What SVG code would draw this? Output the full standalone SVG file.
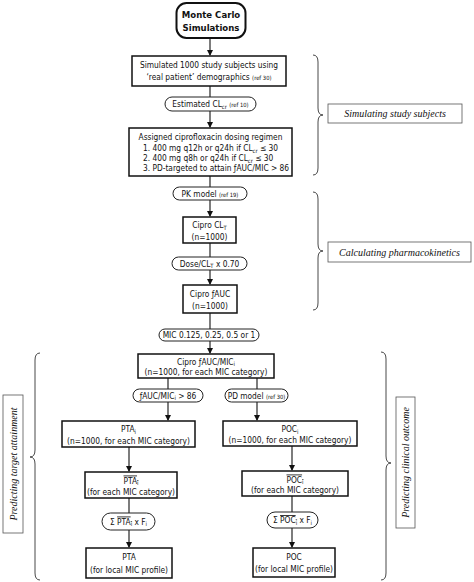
<svg xmlns="http://www.w3.org/2000/svg" width="474" height="582" viewBox="0 0 474 582">
<style>
.bg{fill:#ffffff}
.box{fill:#ffffff;stroke:#111;stroke-width:1.5}
.pill{fill:#ffffff;stroke:#222;stroke-width:1}
.lbl{fill:#ffffff;stroke:#555;stroke-width:0.8}
.ln{fill:none;stroke:#111;stroke-width:1.1}
.br{fill:none;stroke:#333;stroke-width:0.9}
text{font-family:"DejaVu Sans Condensed","DejaVu Sans","Liberation Sans",sans-serif;font-size:8.3px;fill:#111;text-anchor:middle}
.b{font-weight:bold;font-size:9.5px}
.ref{font-size:5.8px}
.it{font-family:"Liberation Serif","Times New Roman",serif;font-style:italic;font-size:10px}
.l{text-anchor:start}
.ov{text-decoration:overline}
</style>
<defs>
<marker id="ah" markerWidth="6" markerHeight="6" refX="5" refY="3" orient="auto" markerUnits="userSpaceOnUse">
<path d="M0,0 L6,3 L0,6 z" fill="#111"/>
</marker>
</defs>
<rect class="bg" x="0" y="0" width="474" height="582"/>

<g id="connectors">
<line class="ln" x1="210" y1="38" x2="210" y2="55" marker-end="url(#ah)"/>
<line class="ln" x1="210" y1="86" x2="210" y2="97"/>
<line class="ln" x1="210" y1="111" x2="210" y2="127" marker-end="url(#ah)"/>
<line class="ln" x1="210" y1="176" x2="210" y2="187"/>
<line class="ln" x1="210" y1="200" x2="210" y2="216" marker-end="url(#ah)"/>
<line class="ln" x1="210" y1="243" x2="210" y2="257"/>
<line class="ln" x1="210" y1="270" x2="210" y2="284" marker-end="url(#ah)"/>
<line class="ln" x1="210" y1="313" x2="210" y2="329"/>
<line class="ln" x1="210" y1="341" x2="210" y2="353" marker-end="url(#ah)"/>
<line class="ln" x1="168" y1="378" x2="168" y2="389"/>
<line class="ln" x1="168" y1="402" x2="168" y2="420" marker-end="url(#ah)"/>
<line class="ln" x1="257" y1="378" x2="257" y2="389"/>
<line class="ln" x1="257" y1="402" x2="257" y2="420" marker-end="url(#ah)"/>
<line class="ln" x1="129" y1="447" x2="129" y2="471" marker-end="url(#ah)"/>
<line class="ln" x1="292" y1="446" x2="292" y2="470" marker-end="url(#ah)"/>
<line class="ln" x1="129" y1="498" x2="129" y2="513"/>
<line class="ln" x1="129" y1="530" x2="129" y2="547" marker-end="url(#ah)"/>
<line class="ln" x1="292" y1="496" x2="292" y2="512"/>
<line class="ln" x1="292" y1="528" x2="292" y2="547" marker-end="url(#ah)"/>
</g>

<g id="brace-subjects">
<path class="br" d="M313,55 Q318,55 318,62 L318,108 Q318,115 323,115 Q318,115 318,122 L318,168 Q318,175 313,175"/>
<rect class="lbl" x="328" y="104" width="134" height="19"/>
<text class="it" x="395" y="117">Simulating study subjects</text>
</g>
<g id="brace-pk">
<path class="br" d="M313,192 Q318,192 318,199 L318,244 Q318,251 323,251 Q318,251 318,258 L318,303 Q318,310 313,310"/>
<rect class="lbl" x="328" y="242" width="143" height="20"/>
<text class="it" x="399.5" y="256">Calculating pharmacokinetics</text>
</g>
<g id="brace-target">
<path class="br" d="M40,353 Q35,353 35,360 L35,450 Q35,457 30,457 Q35,457 35,464 L35,573 Q35,580 40,580"/>
<rect class="lbl" x="3" y="395" width="20" height="138"/>
<text class="it" transform="translate(16.5,464) rotate(-90)">Predicting  target attainment</text>
</g>
<g id="brace-clinical">
<path class="br" d="M381,352 Q386,352 386,359 L386,456 Q386,463 391,463 Q386,463 386,470 L386,573 Q386,580 381,580"/>
<rect class="lbl" x="396" y="397" width="19" height="131"/>
<text class="it" transform="translate(409,462.5) rotate(-90)">Predicting clinical outcome</text>
</g>

<g id="n-montecarlo">
<rect x="176.5" y="3" width="69" height="35" rx="10" fill="#fff" stroke="#111" stroke-width="2"/>
<text class="b" x="211" y="18">Monte Carlo</text>
<text class="b" x="211" y="31">Simulations</text>
</g>
<g id="n-simulated">
<rect class="box" x="132" y="56" width="154" height="30"/>
<text x="209" y="68">Simulated 1000 study subjects using</text>
<text x="209" y="80">‘real patient’ demographics <tspan class="ref">(ref 30)</tspan></text>
</g>
<g id="n-estcl">
<rect class="pill" x="165" y="97" width="91" height="14" rx="7"/>
<text x="210.5" y="107">Estimated CL<tspan class="ref" dy="1.5">cr</tspan><tspan dy="-1.5"> </tspan><tspan class="ref">(ref 10)</tspan></text>
</g>
<g id="n-assigned">
<rect class="box" x="129" y="128" width="163" height="48"/>
<text x="210.5" y="140">Assigned ciprofloxacin dosing regimen</text>
<text class="l" x="143" y="151">1. 400 mg q12h or q24h if CL<tspan class="ref" dy="1.5">cr</tspan><tspan dy="-1.5"> ≤ 30</tspan></text>
<text class="l" x="143" y="161">2. 400 mg q8h or q24h if CL<tspan class="ref" dy="1.5">cr</tspan><tspan dy="-1.5"> ≤ 30</tspan></text>
<text class="l" x="143" y="171">3. PD-targeted to attain ƒAUC/MIC &gt; 86</text>
</g>
<g id="n-pk">
<rect class="pill" x="173" y="187" width="74" height="13" rx="6.5"/>
<text x="210" y="196.5">PK model <tspan class="ref">(ref 19)</tspan></text>
</g>
<g id="n-clt">
<rect class="box" x="183" y="217" width="53" height="26"/>
<text x="209.5" y="228">Cipro CL<tspan class="ref" dy="1.5">T</tspan></text>
<text x="209.5" y="239.5">(n=1000)</text>
</g>
<g id="n-dose">
<rect class="pill" x="172" y="257" width="75" height="13" rx="6.5"/>
<text x="209.5" y="266.5">Dose/CL<tspan class="ref" dy="1.5">T</tspan><tspan dy="-1.5"> x 0.70</tspan></text>
</g>
<g id="n-fauc">
<rect class="box" x="183" y="285" width="54" height="28"/>
<text x="210" y="297">Cipro ƒAUC</text>
<text x="210" y="309">(n=1000)</text>
</g>
<g id="n-mic">
<rect class="pill" x="159" y="329" width="100" height="12" rx="6"/>
<text x="209" y="338">MIC 0.125, 0.25, 0.5 or 1</text>
</g>
<g id="n-faucmic">
<rect class="box" x="138" y="354" width="136" height="24"/>
<text x="206" y="364.5">Cipro ƒAUC/MIC<tspan class="ref" dy="1.5">i</tspan></text>
<text x="206" y="375">(n=1000, for each MIC category)</text>
</g>
<g id="n-target86">
<rect class="pill" x="133" y="389" width="70" height="13" rx="6.5"/>
<text x="168" y="398.5">ƒAUC/MIC<tspan class="ref" dy="1.5">i</tspan><tspan dy="-1.5"> &gt; 86</tspan></text>
</g>
<g id="n-pd">
<rect class="pill" x="225" y="389" width="63" height="13" rx="6.5"/>
<text x="256.5" y="398.5">PD model <tspan class="ref">(ref 30)</tspan></text>
</g>
<g id="n-ptai">
<rect class="box" x="62" y="421" width="133" height="26"/>
<text x="128.5" y="432">PTA<tspan class="ref" dy="1.5">i</tspan></text>
<text x="128.5" y="443.5">(n=1000, for each MIC category)</text>
</g>
<g id="n-poci">
<rect class="box" x="223" y="421" width="134" height="25"/>
<text x="290" y="432">POC<tspan class="ref" dy="1.5">i</tspan></text>
<text x="290" y="443">(n=1000, for each MIC category)</text>
</g>
<g id="n-ptabar">
<rect class="box" x="85" y="472" width="92" height="26"/>
<text x="131" y="483.5"><tspan class="ov">PTA<tspan class="ref" dy="1.5">i</tspan></tspan></text>
<text x="131" y="494.5">(for each MIC category)</text>
</g>
<g id="n-pocbar">
<rect class="box" x="242" y="471" width="106" height="25"/>
<text x="295" y="482.5"><tspan class="ov">POC<tspan class="ref" dy="1.5">i</tspan></tspan></text>
<text x="295" y="493">(for each MIC category)</text>
</g>
<g id="n-sumpta">
<rect class="pill" x="102" y="513" width="53" height="17" rx="8.5"/>
<text x="128.5" y="524.5">Σ <tspan class="ov">PTA<tspan class="ref" dy="1.5">i</tspan></tspan><tspan dy="-1.5"> x F</tspan><tspan class="ref" dy="1.5">i</tspan></text>
</g>
<g id="n-sumpoc">
<rect class="pill" x="267" y="512" width="51" height="16" rx="8"/>
<text x="292.5" y="523">Σ <tspan class="ov">POC<tspan class="ref" dy="1.5">i</tspan></tspan><tspan dy="-1.5"> x F</tspan><tspan class="ref" dy="1.5">i</tspan></text>
</g>
<g id="n-pta">
<rect class="box" x="86" y="548" width="86" height="30"/>
<text x="129" y="560">PTA</text>
<text x="129" y="572.5">(for local MIC profile)</text>
</g>
<g id="n-poc">
<rect class="box" x="253" y="548" width="82" height="29"/>
<text x="294" y="560">POC</text>
<text x="294" y="572">(for local MIC profile)</text>
</g>
</svg>
